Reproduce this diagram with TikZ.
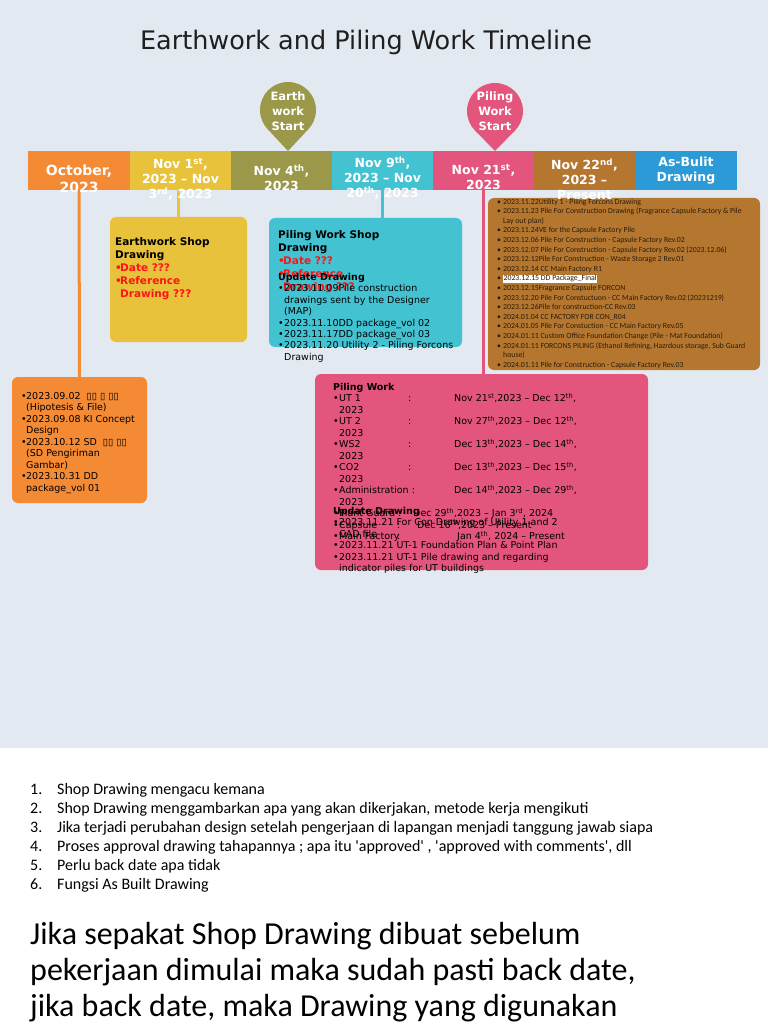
\documentclass[tikz,border=0pt]{standalone}
\usepackage{fontspec}
\setmainfont{DejaVu Sans}
\newfontfamily\calib{Carlito}

\definecolor{bgblue}{HTML}{E3E9F0}
\definecolor{cOrange}{HTML}{F48A33}
\definecolor{cYellow}{HTML}{E8C23A}
\definecolor{cOlive}{HTML}{9B9849}
\definecolor{cCyan}{HTML}{43C3D2}
\definecolor{cPink}{HTML}{E4557E}
\definecolor{cBrown}{HTML}{B5772F}
\definecolor{cBlue}{HTML}{2B9AD6}
\definecolor{cRed}{HTML}{FF1414}
\definecolor{cInk}{HTML}{2A1C0C}

\newcommand\fs[2]{\fontsize{#1}{#2}\selectfont}
\newcommand\bu[1][5.5pt]{\makebox[#1][l]{•}}
\newcommand\ind[1][5.5pt]{\hspace*{#1}}

\tikzset{
  seg/.style={minimum height=39pt, inner sep=0pt},
  seglbl/.style={text=white, font=\bfseries\fs{12.5}{15}, align=center, inner sep=0pt},
  card/.style={rounded corners=6pt, inner sep=0pt},
  txt/.style={anchor=north west, inner sep=0pt, align=left},
  conn/.style={line width=3pt},
  pinlbl/.style={text=white, font=\bfseries\fs{11.5}{15}, align=center, inner sep=0pt},
}

\begin{document}
\begin{tikzpicture}[x=1pt, y=-1pt]
    \useasboundingbox (0,0) rectangle (768,1024);
    \fill[bgblue] (0,0) rectangle (768,748);
    \fill[white] (0,748) rectangle (768,1024);

    % title
    \node[font=\fs{25.5}{30}, text=black!88] (title) at (366,42) {Earthwork and Piling Work Timeline};

    % pins
    \fill[cOlive] (288,110) circle (28);
    \fill[cOlive] (267.6,129.1) -- (288,151) -- (308.4,129.1) -- cycle;
    \node[pinlbl] (ewpin) at (288,111) {Earth\\work\\Start};
    \fill[cPink] (495,111) circle (28);
    \fill[cPink] (474.6,130.1) -- (495,151) -- (515.4,130.1) -- cycle;
    \node[pinlbl] (pwpin) at (495,111) {Piling\\Work\\Start};

    % timeline bar
    \node[seg, fill=cOrange, minimum width=102pt] (oct) at (79,170.5) {};
    \node[seg, fill=cYellow, minimum width=101pt] (novA) at (180.5,170.5) {};
    \node[seg, fill=cOlive, minimum width=101pt] (novB) at (281.5,170.5) {};
    \node[seg, fill=cCyan, minimum width=101pt] (novC) at (382.5,170.5) {};
    \node[seg, fill=cPink, minimum width=101pt] (novD) at (483.5,170.5) {};
    \node[seg, fill=cBrown, minimum width=101pt] (novE) at (584.5,170.5) {};
    \node[seg, fill=cBlue, minimum width=102pt] (asb) at (686,170.5) {};

    % cards
    \node[card, fill=cOrange, minimum width=135pt, minimum height=126pt] (octbox) at (79.5,440) {};
    \node[card, fill=cYellow, minimum width=137pt, minimum height=125pt] (ewbox) at (178.5,279.5) {};
    \node[card, fill=cCyan, minimum width=193pt, minimum height=129pt] (pwbox) at (365.5,282.5) {};
    \node[card, fill=cBrown, minimum width=272pt, minimum height=172pt] (brbox) at (624,284) {};
    \node[card, fill=cPink, minimum width=333pt, minimum height=196pt] (pkbox) at (481.5,472) {};

    % connectors
    \draw[conn, cOrange] (oct.south) -- (octbox.north);
    \draw[conn, cYellow] (ewbox.north |- novA.south) -- (ewbox.north);
    \draw[conn, cCyan] (novC.south) -- (novC.south |- pwbox.north);
    \draw[conn, cPink] (novD.south) -- (novD.south |- pkbox.north);

    % bar labels
    \node[seglbl, font=\bfseries\fs{14}{17}] (octT) at (79,178.5) {October,\\2023};
    \node[seglbl] (novAT) at (180.5,179) {Nov 1\textsuperscript{st},\\2023 – Nov\\3\textsuperscript{rd}, 2023};
    \node[seglbl] (novBT) at (281.5,178) {Nov 4\textsuperscript{th},\\2023};
    \node[seglbl] (novCT) at (382.5,178) {Nov 9\textsuperscript{th},\\2023 – Nov\\20\textsuperscript{th}, 2023};
    \node[seglbl] (novDT) at (483.5,177) {Nov 21\textsuperscript{st},\\2023};
    \node[seglbl] (novET) at (584.5,179) {Nov 22\textsuperscript{nd},\\2023 –\\Present};
    \node[seglbl] (asbT) at (686,171) {As-Bulit\\Drawing};

    % earthwork card
    \node[txt, font=\bfseries\fs{10.5}{13}] (ewtxt) at (115,237) {Earthwork Shop\\Drawing\\
        \textcolor{cRed}{\bu[5pt]Date ???}\\\textcolor{cRed}{\bu[5pt]Reference}\\\textcolor{cRed}{\ind[5pt]Drawing ???}};

    % piling shop card (texts overlap as printed)
    \node[txt, font=\bfseries\fs{10.5}{13}] (pwtxt) at (278,230) {Piling Work Shop\\Drawing\\
        \textcolor{cRed}{\bu[5pt]Date ???}\\\textcolor{cRed}{\bu[5pt]Reference}\\\textcolor{cRed}{\ind[5pt]Drawing ???}};
    \node[txt, font=\fs{9.5}{11.4}] (pwupd) at (278,273) {\textbf{Update Drawing}\\
        \bu[6pt]2023.11.09Pile construction\\
        \ind[6pt]drawings sent by the Designer\\
        \ind[6pt](MAP)\\
        \bu[6pt]2023.11.10DD package\_vol 02\\
        \bu[6pt]2023.11.17DD package\_vol 03\\
        \bu[6pt]2023.11.20 Utility 2 - Piling Forcons\\
        \ind[6pt]Drawing};

    % october card
    \node[txt, font=\fs{9.5}{11.5}] (octtxt) at (21,392) {\bu[5pt]2023.09.02 \ ▯▯ ▯ ▯▯\\
        \ind[5pt](Hipotesis \& File)\\
        \bu[5pt]2023.09.08 KI Concept\\
        \ind[5pt]Design\\
        \bu[5pt]2023.10.12 SD \ ▯▯ ▯▯\\
        \ind[5pt](SD Pengiriman\\
        \ind[5pt]Gambar)\\
        \bu[5pt]2023.10.31 DD\\
        \ind[5pt]package\_vol 01};

    % brown card
    \setlength\fboxsep{0.4pt}
    \node[txt, font=\calib\fs{7.8}{9.6}, text=cInk] (brtxt) at (497,198.5) {\bu[6pt]2023.11.22Utility 1 - Piling Forcons Drawing\\
        \bu[6pt]2023.11.23 Pile For Construction Drawing (Fragrance Capsule Factory \& Pile\\
        \ind[6pt]Lay out plan)\\
        \bu[6pt]2023.11.24VE for the Capsule Factory Pile\\
        \bu[6pt]2023.12.06 Pile For Construction - Capsule Factory Rev.02\\
        \bu[6pt]2023.12.07 Pile For Construction - Capsule Factory Rev.02 (2023.12.06)\\
        \bu[6pt]2023.12.12Pile For Construction - Waste Storage 2 Rev.01\\
        \bu[6pt]2023.12.14 CC Main Factory R1\\
        \bu[6pt]\colorbox{white}{2023.12.15 DD Package\_Final}\\
        \bu[6pt]2023.12.15Fragrance Capsule FORCON\\
        \bu[6pt]2023.12.20 Pile For Constuctuon - CC Main Factory Rev.02 (20231219)\\
        \bu[6pt]2023.12.26Pile for construction-CC Rev.03\\
        \bu[6pt]2024.01.04 CC FACTORY FOR CON\_R04\\
        \bu[6pt]2024.01.05 Pile For Constuction - CC Main Factory Rev.05\\
        \bu[6pt]2024.01.11 Custom Office Foundation Change (Pile - Mat Foundation)\\
        \bu[6pt]2024.01.11 FORCONS PILING (Ethanol Refining, Hazrdous storage, Sub Guard\\
        \ind[6pt]house)\\
        \bu[6pt]2024.01.11 Pile for Construction - Capsule Factory Rev.03};

    % piling work card (texts overlap as printed)
    \node[txt, font=\fs{9.5}{11.5}] (pktxt) at (333,383) {\textbf{Piling Work}\\
        \bu[6pt]\makebox[69pt][l]{UT 1}\makebox[46pt][l]{:}Nov 21\textsuperscript{st},2023 – Dec 12\textsuperscript{th},\\
        \ind[6pt]2023\\
        \bu[6pt]\makebox[69pt][l]{UT 2}\makebox[46pt][l]{:}Nov 27\textsuperscript{th},2023 – Dec 12\textsuperscript{th},\\
        \ind[6pt]2023\\
        \bu[6pt]\makebox[69pt][l]{WS2}\makebox[46pt][l]{:}Dec 13\textsuperscript{th},2023 – Dec 14\textsuperscript{th},\\
        \ind[6pt]2023\\
        \bu[6pt]\makebox[69pt][l]{CO2}\makebox[46pt][l]{:}Dec 13\textsuperscript{th},2023 – Dec 15\textsuperscript{th},\\
        \ind[6pt]2023\\
        \bu[6pt]\makebox[115pt][l]{Administration :}Dec 14\textsuperscript{th},2023 – Dec 29\textsuperscript{th},\\
        \ind[6pt]2023\\
        \bu[6pt]\makebox[74pt][l]{Plant Guard :}Dec 29\textsuperscript{th},2023 – Jan 3\textsuperscript{rd}, 2024\\
        \bu[6pt]\makebox[58pt][l]{Capsule}\makebox[20pt][l]{:}Dec 16\textsuperscript{th},2023 – Present\\
        \bu[6pt]\makebox[58pt][l]{Main Factory}\makebox[60pt][l]{:}Jan 4\textsuperscript{th}, 2024 – Present};
    \node[txt, font=\fs{9.5}{11.4}] (pkupd) at (333,507) {\textbf{Update Drawing}\\
        \bu[6pt]2023.11.21 For Con Drawing of Utility 1 and 2\\
        \ind[6pt]CAD file\\
        \bu[6pt]2023.11.21 UT-1 Foundation Plan \& Point Plan\\
        \bu[6pt]2023.11.21 UT-1 Pile drawing and regarding\\
        \ind[6pt]indicator piles for UT buildings};

    % questions
    \node[txt, font=\calib\fs{16}{19}] (qlist) at (30,783.5) {\makebox[27pt][l]{1.}Shop Drawing mengacu kemana\\
        \makebox[27pt][l]{2.}Shop Drawing menggambarkan apa yang akan dikerjakan, metode kerja mengikuti\\
        \makebox[27pt][l]{3.}Jika terjadi perubahan design setelah pengerjaan di lapangan menjadi tanggung jawab siapa\\
        \makebox[27pt][l]{4.}Proses approval drawing tahapannya ; apa itu 'approved' , 'approved with comments', dll\\
        \makebox[27pt][l]{5.}Perlu back date apa tidak\\
        \makebox[27pt][l]{6.}Fungsi As Built Drawing};
    \node[txt, font=\calib\fs{32}{36}] (note) at (30,922) {Jika sepakat Shop Drawing dibuat sebelum\\
        pekerjaan dimulai maka sudah pasti back date,\\
        jika back date, maka Drawing yang digunakan};
\end{tikzpicture}
\end{document}
